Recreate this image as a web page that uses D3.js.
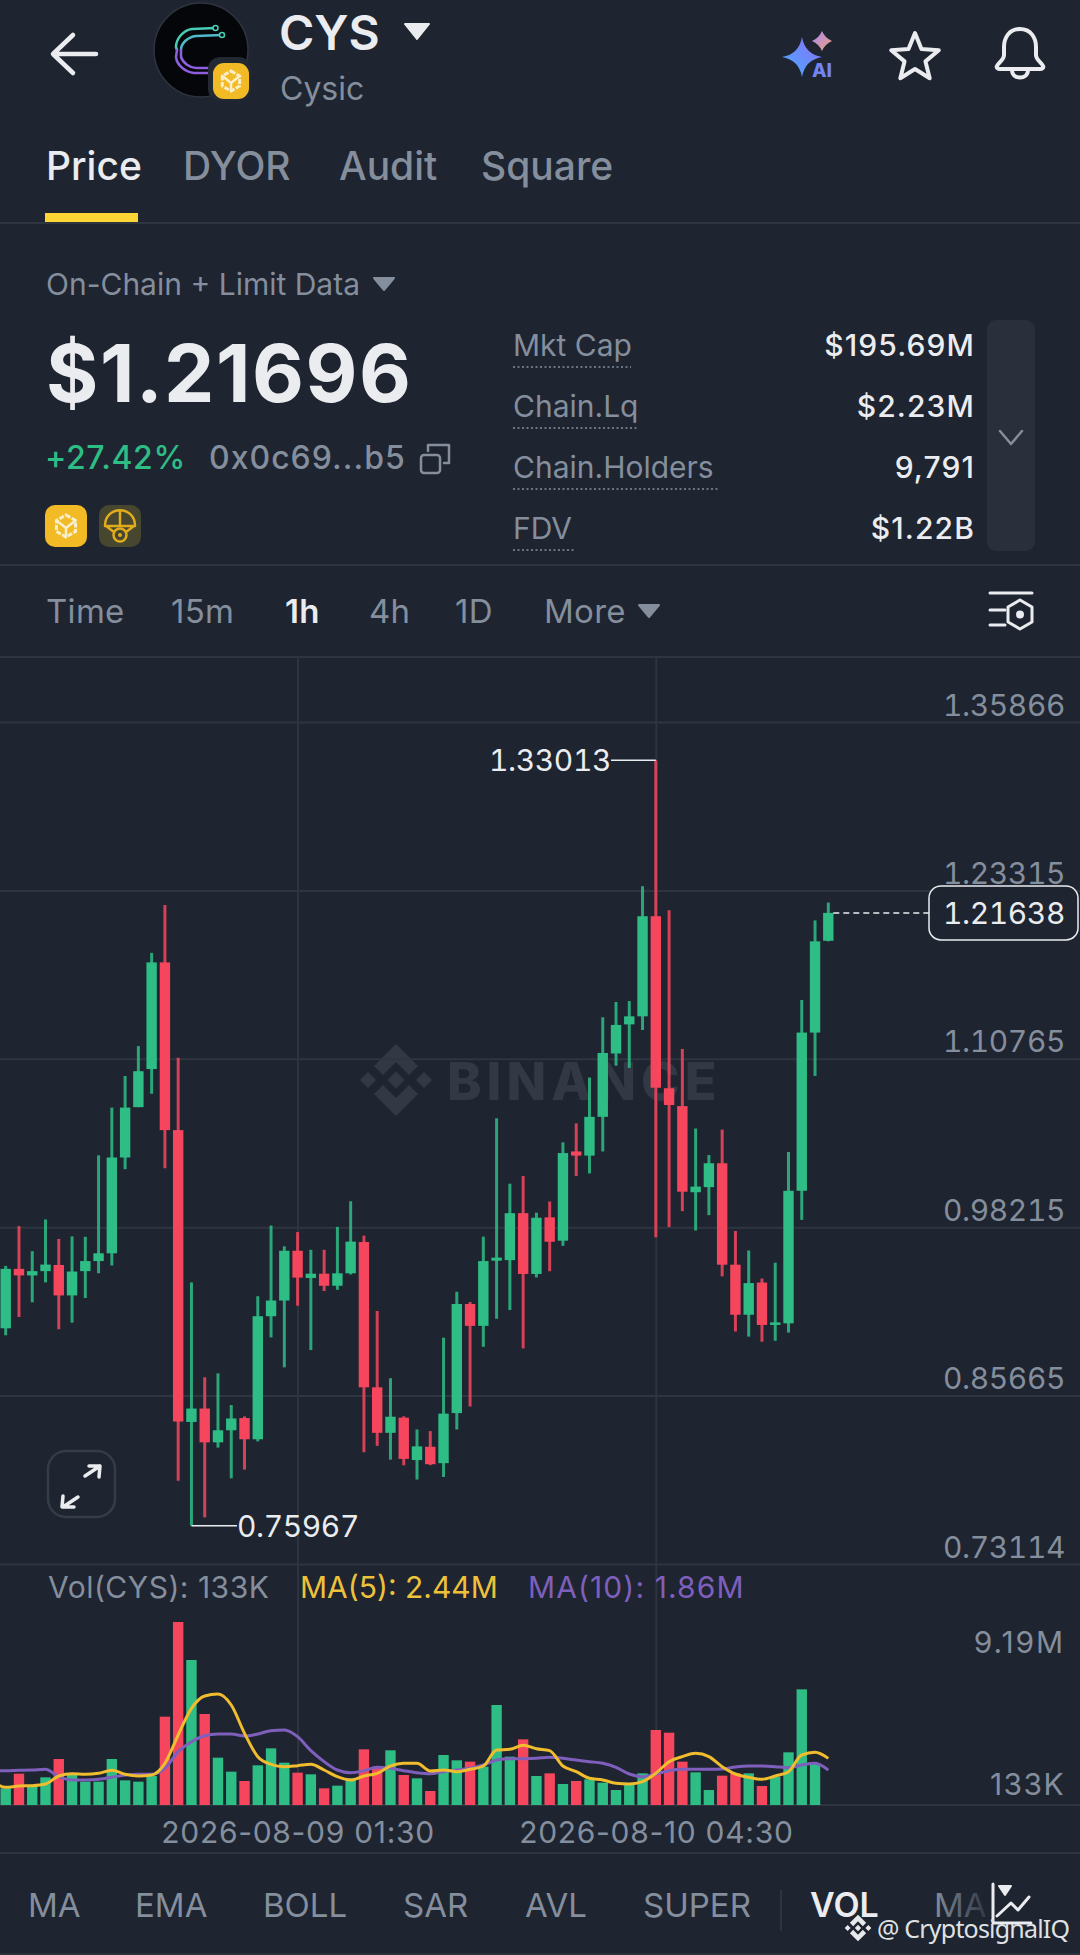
<!DOCTYPE html>
<html>
<head>
<meta charset="utf-8">
<title>CYS 1h</title>
<script src="https://cdn.jsdelivr.net/npm/d3@7"></script>
<style>
  html, body { margin: 0; padding: 0; background: #1e2430; }
  svg { display: block; font-family: Inter, "Noto Sans", sans-serif; }
  .num { font-variant-numeric: tabular-nums; }
</style>
</head>
<body>
<svg id="chart" width="1080" height="1955"></svg>
<script>
// candle data, oldest first
const candleUp = [1,0,1,1,0,1,1,1,1,1,1,1,0,0,1,0,1,1,0,1,1,1,0,1,0,1,1,0,0,1,0,1,0,1,1,0,1,1,1,0,1,0,1,0,1,1,1,1,1,0,0,0,1,1,0,0,1,0,1,1,1,1,1];
const bodyTop = [.9511,.9511,.9494,.9543,.9540,.9491,.9569,.9627,1.0341,1.0713,1.0984,1.1795,1.1795,1.0545,.8470,.8470,.8308,.8396,.8399,.9158,.9275,.9646,.9646,.9475,.9475,.9478,.9714,.9711,.8628,.8409,.8402,.8188,.8185,.8432,.9249,.9249,.9569,.9595,.9926,.9926,.9892,.9895,1.0374,1.0386,1.0644,1.1120,1.1329,1.1393,1.2139,1.2139,1.0857,1.0724,1.0124,1.0298,1.0298,.9542,.9405,.9409,.9112,1.0093,1.1272,1.1952,1.2164];
const bodyBottom = [.9068,.9462,.9462,.9494,.9313,.9313,.9494,.9569,.9627,1.0341,1.0716,1.1000,1.0545,.8373,.8370,.8218,.8218,.8308,.8241,.8241,.9158,.9275,.9446,.9443,.9385,.9385,.9478,.8628,.8289,.8289,.8095,.8086,.8055,.8063,.8436,.9086,.9086,.9572,.9576,.9473,.9473,.9713,.9721,1.0355,1.0355,1.0644,1.1116,1.1333,1.1393,1.0861,1.0732,1.0086,1.0082,1.0120,.9542,.9169,.9169,.9093,.9093,.9105,1.0093,1.1272,1.1956];
const highs = [.9533,.9830,.9643,.9879,.9734,.9753,.9750,1.0357,1.0713,1.0948,1.1171,1.1866,1.2222,1.1084,.9410,.8703,.8732,.8496,.8412,.9307,.9834,.9679,.9785,.9653,.9653,.9824,1.0015,.9759,.9197,.8696,.8412,.8314,.8302,.8998,.9340,.9264,.9751,1.0633,1.0146,1.0203,.9930,1.0013,1.0454,1.0595,1.0937,1.1386,1.1500,1.1507,1.2363,1.33013,1.2184,1.1150,1.0557,1.0359,1.0549,.9793,.9648,.9439,.9557,1.0382,1.1515,1.2108,1.2241];
const lows = [.9016,.9152,.9262,.9410,.9061,.9110,.9294,.9478,.9536,1.0254,1.0716,1.0816,1.0260,.7931,.75967,.7659,.8179,.7950,.8015,.8225,.9000,.8777,.9236,.8906,.9346,.9355,.9469,.8144,.8192,.8089,.8047,.7941,.8048,.7960,.8314,.8485,.8930,.9139,.9204,.8918,.9447,.9493,.9683,1.0203,1.0222,1.0386,1.1025,1.1009,1.1291,.9747,.9823,.9941,.9797,.9911,.9455,.9044,.9006,.8968,.8975,.9036,.9876,1.0949,1.1952];

// volume panel, in millions
const volumes = [.958,1.684,1.090,1.502,2.410,1.618,1.288,1.288,2.410,1.354,1.288,1.568,4.505,9.19,7.309,4.637,2.476,1.783,1.321,2.096,2.937,2.228,1.733,1.651,.958,1.090,1.453,2.888,2.030,2.839,1.618,1.453,.826,2.608,2.344,2.278,2.030,5.082,2.525,3.383,1.568,1.700,1.172,1.321,1.403,1.238,.875,1.123,1.700,3.845,3.713,2.278,1.750,.875,1.585,1.700,1.700,1.073,1.535,2.740,5.857,2.195,.133];
// the MA lines start one candle earlier, off the left edge
const ma5 = [1.288,1.007,1.073,1.090,1.172,1.568,1.684,1.651,1.700,1.849,1.651,1.568,1.618,2.195,3.597,4.917,5.528,5.627,5.082,3.680,2.525,2.146,2.030,2.080,2.146,1.865,1.535,1.370,1.568,1.700,2.063,2.195,2.195,1.816,1.865,1.783,1.898,2.063,2.855,2.888,3.086,2.921,2.822,2.063,1.783,1.453,1.370,1.205,1.172,1.288,1.700,2.278,2.525,2.690,2.525,2.030,1.667,1.502,1.403,1.568,1.783,2.608,2.740,2.44];
const ma10 = [1.832,1.832,1.849,1.865,1.898,1.535,1.370,1.370,1.403,1.502,1.618,1.651,1.651,1.948,2.773,3.267,3.564,3.647,3.647,3.548,3.647,3.812,3.845,3.515,2.822,2.278,1.865,1.733,1.832,1.997,1.948,1.832,1.733,1.684,1.783,1.865,1.948,2.113,2.360,2.426,2.426,2.443,2.492,2.443,2.360,2.278,2.195,1.997,1.667,1.535,1.667,1.832,1.898,1.898,1.898,1.915,2.014,2.063,2.063,2.030,1.981,2.113,2.195,1.86];

// axis ticks
const priceTicks = [1.35866, 1.23315, 1.10765, 0.98215, 0.85665, 0.73114];
const volumeTickLabels = ['9.19M', '133K'];
const timeTickIndex = [22, 49];
const timeTickLabels = ['2026-08-09 01:30', '2026-08-10 04:30'];
const lastPrice = 1.21638;
const highPrice = 1.33013;
const lowPrice = 0.75967;

// header and footer text
const tabs = [['Price', 46], ['DYOR', 183], ['Audit', 339], ['Square', 481]];
const stats = [['Mkt Cap', '$195.69M', 356, 367, 118], ['Chain.Lq', '$2.23M', 417, 428, 126], ['Chain.Holders', '9,791', 478, 489, 205], ['FDV', '$1.22B', 539, 550, 61]];
const intervals = [['Time', 46], ['15m', 171], ['1h', 285], ['4h', 369], ['1D', 455], ['More', 544]];
const indicators = [['MA', 28], ['EMA', 135], ['BOLL', 263], ['SAR', 403], ['AVL', 525], ['SUPER', 643]];

const bg = '#1e2430';
const gridColor = '#2f3540';
const grey = '#848e9c';
const green = '#2ebd85';
const red = '#f6465d';
const white = '#eaecef';

const svg = d3.select('#chart');
svg.append('rect').attr('width', 1080).attr('height', 1955).attr('fill', bg);

const defs = svg.append('defs');
const sparkGrad = defs.append('linearGradient').attr('id', 'spark').attr('x1', 1).attr('x2', 0).attr('y1', 0).attr('y2', 1);
sparkGrad.append('stop').attr('offset', '0%').attr('stop-color', '#8e6cf6');
sparkGrad.append('stop').attr('offset', '100%').attr('stop-color', '#45aeff');
const sparkGrad2 = defs.append('linearGradient').attr('id', 'spark2').attr('x1', 0).attr('x2', 1).attr('y1', 0).attr('y2', 1);
sparkGrad2.append('stop').attr('offset', '0%').attr('stop-color', '#a78af5');
sparkGrad2.append('stop').attr('offset', '100%').attr('stop-color', '#f2a07a');
const fadeGrad = defs.append('linearGradient').attr('id', 'fade').attr('gradientUnits', 'userSpaceOnUse')
    .attr('x1', 934).attr('x2', 990).attr('y1', 0).attr('y2', 0);
fadeGrad.append('stop').attr('offset', '0%').attr('stop-color', grey);
fadeGrad.append('stop').attr('offset', '100%').attr('stop-color', grey).attr('stop-opacity', 0.15);

function label(x, y, text, size, fill, weight, anchor) {
    return svg.append('text')
        .attr('x', x).attr('y', y)
        .attr('font-size', size)
        .attr('font-weight', weight || 400)
        .attr('fill', fill)
        .attr('text-anchor', anchor || 'start')
        .text(text);
}

function hline(y, color) {
    svg.append('line').attr('x1', 0).attr('x2', 1080).attr('y1', y).attr('y2', y)
        .attr('stroke', color || gridColor).attr('stroke-width', 2);
}

function triangle(x1, x2, y1, y2, fill) {
    svg.append('path')
        .attr('d', `M${x1},${y1}L${x2},${y1}L${(x1 + x2) / 2},${y2}Z`)
        .attr('fill', fill).attr('stroke', fill).attr('stroke-width', 2).attr('stroke-linejoin', 'round');
}

function stroked(d, color, w) {
    return svg.append('path').attr('d', d).attr('fill', 'none')
        .attr('stroke', color).attr('stroke-width', w)
        .attr('stroke-linecap', 'round').attr('stroke-linejoin', 'round');
}

// little BNB cube used on the badges
function cube(cx, cy, r) {
    const pts = d3.range(6).map(i => {
        const a = Math.PI / 3 * i - Math.PI / 2;
        return [cx + r * Math.cos(a), cy + r * Math.sin(a)];
    });
    svg.append('path').attr('d', 'M' + pts.join('L') + 'Z').attr('fill', 'none').attr('stroke', '#fbeecb').attr('stroke-width', 3).attr('stroke-dasharray', '5,1.5');
    stroked(`M${pts[5]}L${cx},${cy + 2}L${pts[1]}M${cx},${cy + 2}L${pts[3]}`, '#fbeecb', 2.5);
}

// Binance diamond mark
function binanceMark(cx, cy, s, fill) {
    const d = (x, y, r) => `M${cx + x * s},${cy + (y - r) * s}L${cx + (x + r) * s},${cy + y * s}L${cx + x * s},${cy + (y + r) * s}L${cx + (x - r) * s},${cy + y * s}Z`;
    const chevron = dir => `M${cx},${cy + dir * 36 * s}L${cx + 22 * s},${cy + dir * 14 * s}L${cx + 13 * s},${cy + dir * 5 * s}L${cx},${cy + dir * 18 * s}L${cx - 13 * s},${cy + dir * 5 * s}L${cx - 22 * s},${cy + dir * 14 * s}Z`;
    svg.append('path').attr('d', d(0, 0, 8.5) + d(-28, 0, 8) + d(28, 0, 8) + chevron(-1) + chevron(1)).attr('fill', fill);
}

// ---- header ----
stroked('M96,54L54,54M73,35L53,54L73,73', white, 4.5);

svg.append('circle').attr('cx', 201).attr('cy', 50).attr('r', 47).attr('fill', '#05060a').attr('stroke', '#2f3540').attr('stroke-width', 1.5);
stroked('M215,28L192,29C184,30 176,38 176,47L177,50', '#48cdb4', 2.5);
stroked('M222,35L196,36C188,37 181,43 181,50', '#4fb9c9', 2.5);
stroked('M177,50L176,57C177,66 186,72 194,73L210,73', '#8f5fe0', 2.5);
stroked('M181,50L181,57C183,63 190,68 196,68L210,68', '#8f5fe0', 2.5);
svg.append('circle').attr('cx', 215.5).attr('cy', 28).attr('r', 2.5).attr('fill', '#05060a').attr('stroke', '#48cdb4').attr('stroke-width', 1.5);
svg.append('circle').attr('cx', 222).attr('cy', 35).attr('r', 2.5).attr('fill', '#05060a').attr('stroke', '#48cdb4').attr('stroke-width', 1.5);
svg.append('rect').attr('x', 208).attr('y', 57).attr('width', 43).attr('height', 44).attr('rx', 12).attr('fill', '#232933');
svg.append('rect').attr('x', 213).attr('y', 63).attr('width', 36).attr('height', 36).attr('rx', 11).attr('fill', '#f2bb26');
cube(231, 81, 10);

label(279, 50, 'CYS', 48, white, 600);
triangle(405, 429, 24, 39, white);
label(280, 100, 'Cysic', 32, grey, 400);

const spark = (cx, cy, rx, ry) => `M${cx},${cy - ry}Q${cx + 3},${cy - 3} ${cx + rx},${cy}Q${cx + 3},${cy + 3} ${cx},${cy + ry}Q${cx - 3},${cy + 3} ${cx - rx},${cy}Q${cx - 3},${cy - 3} ${cx},${cy - ry}Z`;
svg.append('path').attr('d', spark(802, 57, 20, 20)).attr('fill', 'url(#spark)');
svg.append('path').attr('d', spark(822, 41, 10, 10)).attr('fill', 'url(#spark2)');
label(812, 77, 'AI', 19, '#7184f0', 800);

const starPts = d3.range(10).map(i => {
    const a = Math.PI / 5 * i - Math.PI / 2, r = i % 2 ? 11 : 25;
    return [915 + r * Math.cos(a), 58 + r * Math.sin(a)];
});
stroked('M' + starPts.join('L') + 'Z', white, 4);

stroked('M1020,29C1009,29 1004,38 1004,47L1004,55C1004,60 998,63 997,66C996,68 998,69 1000,69L1040,69C1042,69 1044,68 1043,66C1042,63 1036,60 1036,55L1036,47C1036,38 1031,29 1020,29Z', white, 4);
stroked('M1012,70C1012,80 1028,80 1028,70', white, 4);

// tabs
tabs.forEach((t, i) => label(t[1], 180, t[0], 39, i === 0 ? white : grey, 500));
svg.append('rect').attr('x', 45).attr('y', 213).attr('width', 93).attr('height', 9).attr('fill', '#fcd535');
hline(223);

// price block
label(46, 295, 'On-Chain + Limit Data', 30, grey, 400);
triangle(374, 394, 278, 290, grey);
label(46, 402, '$1.21696', 80, white, 700).attr('letter-spacing', 1.5);
label(45, 469, '+27.42%', 32, green, 500).attr('letter-spacing', 0.6);
label(209, 469, '0x0c69...b5', 32, grey, 500).attr('letter-spacing', 1);
svg.append('rect').attr('x', 421).attr('y', 455).attr('width', 19).attr('height', 18).attr('rx', 3).attr('fill', 'none').attr('stroke', grey).attr('stroke-width', 2.5);
stroked('M428,451L428,445L449,445L449,463L444,463', grey, 2.5);

svg.append('rect').attr('x', 45).attr('y', 505).attr('width', 42).attr('height', 42).attr('rx', 10).attr('fill', '#f2bb26');
cube(66, 526, 11);
svg.append('rect').attr('x', 99).attr('y', 505).attr('width', 42).attr('height', 42).attr('rx', 10).attr('fill', '#47462f');
stroked('M105,526C105,505 135,505 135,526ZM120,512L120,526M106,526L114,532M134,526L126,532', '#e0ac1c', 2.5);
svg.append('circle').attr('cx', 120).attr('cy', 535).attr('r', 6.5).attr('fill', 'none').attr('stroke', '#e0ac1c').attr('stroke-width', 2.5);
svg.append('circle').attr('cx', 120).attr('cy', 535).attr('r', 2).attr('fill', '#e0ac1c');

stats.forEach(s => {
    label(513, s[2], s[0], 30, grey, 400);
    label(975, s[2], s[1], 30, white, 500, 'end').attr('letter-spacing', 1.1);
    svg.append('line').attr('x1', 513).attr('x2', 513 + s[4]).attr('y1', s[3]).attr('y2', s[3])
        .attr('stroke', grey).attr('stroke-width', 1.5).attr('stroke-dasharray', '2,2.5');
});
svg.append('rect').attr('x', 987).attr('y', 320).attr('width', 48).attr('height', 231).attr('rx', 9).attr('fill', '#2a303b');
stroked('M1000,431L1011,444L1022,431', grey, 2.5);
hline(565);

// interval bar
intervals.forEach(t => label(t[1], 623, t[0], 33, t[0] === '1h' ? white : grey, t[0] === '1h' ? 600 : 400).attr('letter-spacing', 0.3));
triangle(639, 659, 605, 617, grey);
stroked('M990,593L1032,593M990,610L1005,610M990,625L1005,625', white, 3);
stroked('M1020,600L1032,607L1032,622L1020,629L1008,622L1008,607Z', white, 3);
svg.append('circle').attr('cx', 1020).attr('cy', 614.5).attr('r', 4).attr('fill', white);
hline(657);

// ---- chart scales ----
const x = d3.scaleLinear().domain([0, 62]).range([5.7, 828.3]);
const y = d3.scaleLinear().domain([0.73114, 1.35866]).range([1564, 722]);
const yVol = d3.scaleLinear().domain([0.133, 9.19]).range([1805, 1622]);

// watermark sits under everything
binanceMark(396, 1080, 1, '#333944');
label(447, 1100, 'BINANCE', 52, '#333944', 800).attr('letter-spacing', 5);

// grid and axes
const timeAxis = d3.axisBottom(x).tickValues(timeTickIndex)
    .tickFormat((d, i) => timeTickLabels[i]).tickSizeInner(-(1805 - 657)).tickSizeOuter(0);
const timeG = svg.append('g').attr('transform', 'translate(0,1805)').call(timeAxis);
timeG.select('.domain').remove();
timeG.selectAll('line').attr('stroke', gridColor).attr('stroke-width', 2);
timeG.selectAll('text').attr('y', 38).attr('dy', 0).attr('font-size', 30).attr('font-family', 'Inter')
    .attr('fill', grey).attr('letter-spacing', 0.7);

const priceAxis = d3.axisLeft(y).tickValues(priceTicks).tickFormat(d3.format('.5f')).tickSize(1080);
const priceG = svg.append('g').attr('transform', 'translate(1080,0)').call(priceAxis);
priceG.select('.domain').remove();
priceG.selectAll('line').attr('stroke', gridColor).attr('stroke-width', 2);
priceG.selectAll('text').attr('class', 'num').attr('x', -15).attr('y', -7).attr('dy', 0).attr('font-size', 30).attr('font-family', 'Inter')
    .attr('fill', grey).attr('letter-spacing', -0.4);

svg.append('line').attr('x1', 0).attr('x2', 1080).attr('y1', yVol(0.133)).attr('y2', yVol(0.133))
    .attr('stroke', gridColor).attr('stroke-width', 2);

// candles
const candles = svg.append('g');
const idx = d3.range(highs.length);
candles.selectAll('line').data(idx).enter().append('line')
    .attr('x1', i => x(i)).attr('x2', i => x(i))
    .attr('y1', i => y(highs[i])).attr('y2', i => y(lows[i]))
    .attr('stroke', i => candleUp[i] ? green : red)
    .attr('stroke-opacity', 0.85)
    .attr('stroke-width', 3);
candles.selectAll('rect').data(idx).enter().append('rect')
    .attr('x', i => x(i) - 5.2)
    .attr('width', 10.4)
    .attr('y', i => y(bodyTop[i]))
    .attr('height', i => Math.max(2.5, y(bodyBottom[i]) - y(bodyTop[i])))
    .attr('fill', i => candleUp[i] ? green : red);

// high and low markers
const markHigh = x(highs.indexOf(highPrice));
const markLow = x(lows.indexOf(lowPrice));
svg.append('line').attr('x1', 611).attr('x2', markHigh).attr('y1', y(highPrice)).attr('y2', y(highPrice))
    .attr('stroke', white).attr('stroke-width', 1.5);
label(611, y(highPrice) + 11, d3.format('.5f')(highPrice), 30, white, 400, 'end').attr('class', 'num').attr('letter-spacing', -0.4);
svg.append('line').attr('x1', markLow).attr('x2', 237).attr('y1', y(lowPrice)).attr('y2', y(lowPrice))
    .attr('stroke', white).attr('stroke-width', 1.5);
label(237, y(lowPrice) + 11, d3.format('.5f')(lowPrice), 30, white, 400).attr('class', 'num').attr('letter-spacing', -0.4);

// last price tag
svg.append('line').attr('x1', x(62) + 5).attr('x2', 929).attr('y1', y(lastPrice)).attr('y2', y(lastPrice))
    .attr('stroke', white).attr('stroke-width', 1.5).attr('stroke-dasharray', '6,4');
svg.append('rect').attr('x', 929).attr('y', y(lastPrice) - 27).attr('width', 149).attr('height', 54).attr('rx', 12)
    .attr('fill', bg).attr('stroke', white).attr('stroke-width', 1.5);
label(1004, y(lastPrice) + 11, d3.format('.5f')(lastPrice), 30, white, 400, 'middle').attr('class', 'num').attr('letter-spacing', -0.4);

// fullscreen button
svg.append('rect').attr('x', 48).attr('y', 1451).attr('width', 67).attr('height', 66).attr('rx', 18)
    .attr('fill', 'none').attr('stroke', '#363c47').attr('stroke-width', 2.5);
stroked('M85,1476L100,1466M89,1466L100,1466L99,1477M78,1497L63,1507M63,1496L62,1507L74,1507', white, 3.5);

// ---- volume panel ----
label(48, 1598, 'Vol(CYS): 133K', 30, grey, 400).attr('letter-spacing', 0.5);
label(300, 1598, 'MA(5): 2.44M', 30, '#edc23a', 400);
label(528, 1598, 'MA(10): 1.86M', 30, '#7f5fbc', 400).attr('letter-spacing', 1.1);

svg.append('g').selectAll('rect').data(idx).enter().append('rect')
    .attr('x', i => x(i) - 5.2)
    .attr('width', 10.4)
    .attr('y', i => yVol(volumes[i]))
    .attr('height', i => yVol(0.133) - yVol(volumes[i]))
    .attr('fill', i => candleUp[i] ? green : red);

const maLine = d3.line().x((d, i) => x(i - 1)).y(d => yVol(d)).curve(d3.curveMonotoneX);
svg.append('path').attr('d', maLine(ma10)).attr('fill', 'none').attr('stroke', '#7f5fbc').attr('stroke-width', 3);
svg.append('path').attr('d', maLine(ma5)).attr('fill', 'none').attr('stroke', '#f0bd2e').attr('stroke-width', 3);

label(1065, 1653, volumeTickLabels[0], 30, grey, 400, 'end').attr('letter-spacing', 1.9);
label(1065, 1795, volumeTickLabels[1], 30, grey, 400, 'end').attr('letter-spacing', 1.4);

hline(1853);

// ---- footer ----
indicators.forEach(t => label(t[1], 1917, t[0], 33, grey, 400));
svg.append('line').attr('x1', 781).attr('x2', 781).attr('y1', 1890).attr('y2', 1931).attr('stroke', gridColor).attr('stroke-width', 2);
label(810, 1917, 'VOL', 34, white, 600);
label(934, 1917, 'MA', 33, 'url(#fade)', 400);
stroked('M993,1884L993,1923L1031,1923', white, 3);
stroked('M997,1916L1011,1903L1018,1910L1029,1897', white, 3);
triangle(999, 1011, 1886, 1895, white);
binanceMark(858, 1928, 0.37, '#e6e8ea');
label(877, 1938, '@ CryptosignalIQ', 25, '#dfe1e4', 400).attr('font-family', '"Noto Sans"').attr('textLength', 193);
hline(1954, '#2b313c');
</script>
</body>
</html>
